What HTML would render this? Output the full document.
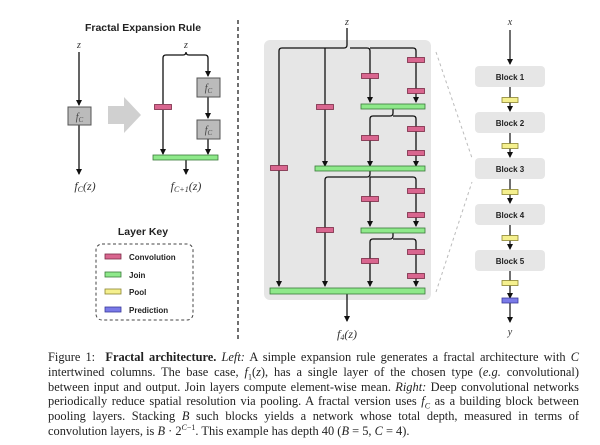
<!DOCTYPE html>
<html><head><meta charset="utf-8"><style>
body{margin:0;background:#fff;width:600px;height:445px;overflow:hidden;position:relative}
.cap{position:absolute;left:48px;top:350px;width:531px;font-family:"Liberation Serif",serif;font-size:12.4px;line-height:14.8px;text-align:justify;color:#222}
.cap sub,.cap sup{line-height:0;font-size:8px}
</style></head><body>
<svg width="600" height="445" style="position:absolute;left:0;top:0" font-family="Liberation Sans, sans-serif">
<defs>
<marker id="a" markerWidth="6" markerHeight="6" refX="5" refY="3" orient="auto" markerUnits="userSpaceOnUse"><path d="M0,0 L6,3 L0,6 z" fill="#111"/></marker>
<symbol id="c" overflow="visible"><rect x="-8.5" y="-2.5" width="17" height="5" fill="#d9668f" stroke="#7a2a45" stroke-width="0.8"/></symbol>
<symbol id="p" overflow="visible"><rect x="-8" y="-2.5" width="16" height="5" fill="#f5f08e" stroke="#8a8430" stroke-width="0.8"/></symbol>
</defs>
<g stroke="#111" stroke-width="1.3" fill="none">
<path d="M79,52 V105" marker-end="url(#a)"/>
<path d="M79,125 V174" marker-end="url(#a)"/>
<path d="M163,104 V58 Q163,55 166,55 H183 Q186,55 186,52 Q186,55 189,55 H205 Q208,55 208,58 V76" marker-end="url(#a)"/>
<path d="M163,110 V154" marker-end="url(#a)"/>
<path d="M208,97 V118" marker-end="url(#a)"/>
<path d="M208,139 V154" marker-end="url(#a)"/>
<path d="M186,160 V174" marker-end="url(#a)"/>
</g>
<text x="143" y="31" font-size="10.5" font-weight="bold" text-anchor="middle" fill="#222">Fractal Expansion Rule</text>
<g font-family="Liberation Serif, serif" font-style="italic" fill="#333" text-anchor="middle">
<text x="79" y="48" font-size="10">z</text>
<text x="186" y="48" font-size="10">z</text>
<text x="85" y="190" font-size="12">f<tspan font-size="8" dy="2">C</tspan><tspan dy="-2">(z)</tspan></text>
<text x="186" y="190" font-size="12">f<tspan font-size="8" dy="2">C+1</tspan><tspan dy="-2">(z)</tspan></text>
<text x="347" y="25" font-size="10">z</text>
<text x="347" y="338" font-size="12">f<tspan font-size="8" dy="2">4</tspan><tspan dy="-2">(z)</tspan></text>
<text x="510" y="25" font-size="10">x</text>
<text x="510" y="335" font-size="10">y</text>
</g>
<rect x="68" y="107" width="23" height="18" fill="#bbb" stroke="#555"/>
<text x="79.5" y="120" font-size="10" font-family="Liberation Serif, serif" font-style="italic" text-anchor="middle" fill="#444">f<tspan font-size="7" dy="2">C</tspan></text>
<rect x="197" y="78" width="23" height="19" fill="#bbb" stroke="#555"/>
<text x="208.5" y="91" font-size="10" font-family="Liberation Serif, serif" font-style="italic" text-anchor="middle" fill="#444">f<tspan font-size="7" dy="2">C</tspan></text>
<rect x="197" y="120" width="23" height="19" fill="#bbb" stroke="#555"/>
<text x="208.5" y="133" font-size="10" font-family="Liberation Serif, serif" font-style="italic" text-anchor="middle" fill="#444">f<tspan font-size="7" dy="2">C</tspan></text>
<path d="M108,106 H124 V97 L141,115 L124,133 V124 H108 z" fill="#d0d0d0"/>
<use href="#c" x="163" y="107"/>
<rect x="153" y="155" width="65" height="5" fill="#8ee98a" stroke="#3a7a3a" stroke-width="0.8"/>
<line x1="238" y1="20" x2="238" y2="340" stroke="#222" stroke-width="1.3" stroke-dasharray="4,3"/>
<text x="143" y="235" font-size="10.5" font-weight="bold" text-anchor="middle" fill="#222">Layer Key</text>
<rect x="96" y="244" width="97" height="76" rx="6" fill="none" stroke="#444" stroke-dasharray="3,2.5"/>
<g font-size="8" font-weight="bold" fill="#222">
<rect x="105" y="254" width="16" height="5" fill="#d9668f" stroke="#7a2a45" stroke-width="0.8"/><text x="129" y="260">Convolution</text>
<rect x="105" y="272" width="16" height="5" fill="#8ee98a" stroke="#3a7a3a" stroke-width="0.8"/><text x="129" y="278">Join</text>
<rect x="105" y="289" width="16" height="5" fill="#f5f08e" stroke="#8a8430" stroke-width="0.8"/><text x="129" y="295">Pool</text>
<rect x="105" y="307" width="16" height="5" fill="#7a7ae8" stroke="#3a3a9a" stroke-width="0.8"/><text x="129" y="313">Prediction</text>
</g>
<rect x="264" y="40" width="167" height="260" rx="6" fill="#e6e6e6"/>
<g stroke="#bbb" stroke-width="1" stroke-dasharray="3,3"><line x1="436" y1="52" x2="472" y2="158"/><line x1="436" y1="292" x2="472" y2="182"/></g>
<g stroke="#111" stroke-width="1.3" fill="none">
<path d="M347,28 V45 Q347,48 344,48 H282 Q279,48 279,51 V286" marker-end="url(#a)"/>
<path d="M325,48 V166" marker-end="url(#a)"/>
<path d="M350,48 H367 Q370,48 370,51 V102" marker-end="url(#a)"/>
<path d="M370,48 H413 Q416,48 416,51 V102" marker-end="url(#a)"/>
<path d="M393,109 V113 Q393,116 390,116 H373 Q370,116 370,119 V166" marker-end="url(#a)"/>
<path d="M393,116 H413 Q416,116 416,119 V166" marker-end="url(#a)"/>
<path d="M370,170 V174 Q370,177 367,177 H328 Q325,177 325,180 V286" marker-end="url(#a)"/>
<path d="M370,177 V226" marker-end="url(#a)"/>
<path d="M370,177 H413 Q416,177 416,180 V226" marker-end="url(#a)"/>
<path d="M393,232 V236 Q393,239 390,239 H373 Q370,239 370,242 V286" marker-end="url(#a)"/>
<path d="M393,239 H413 Q416,239 416,242 V286" marker-end="url(#a)"/>
<path d="M347,294 V321" marker-end="url(#a)"/>
</g>
<use href="#c" x="416" y="60"/><use href="#c" x="416" y="91"/><use href="#c" x="370" y="76"/><use href="#c" x="325" y="107"/>
<use href="#c" x="370" y="138"/><use href="#c" x="416" y="129"/><use href="#c" x="416" y="153"/><use href="#c" x="279" y="168"/>
<use href="#c" x="325" y="230"/><use href="#c" x="370" y="199"/><use href="#c" x="416" y="191"/><use href="#c" x="416" y="215"/>
<use href="#c" x="370" y="261"/><use href="#c" x="416" y="252"/><use href="#c" x="416" y="276"/>
<g fill="#8ee98a" stroke="#3a7a3a" stroke-width="0.8">
<rect x="361" y="104" width="64" height="5"/><rect x="315" y="166" width="110" height="5"/>
<rect x="361" y="228" width="64" height="5"/><rect x="270" y="288" width="155" height="6"/>
</g>
<g stroke="#111" stroke-width="1.2" fill="none">
<path d="M510,30 V64" marker-end="url(#a)"/>
<path d="M510,87 V111" marker-end="url(#a)"/><path d="M510,133 V157" marker-end="url(#a)"/>
<path d="M510,179 V203" marker-end="url(#a)"/><path d="M510,225 V249" marker-end="url(#a)"/>
<path d="M510,271 V298" marker-end="url(#a)"/><path d="M510,302 V322" marker-end="url(#a)"/>
</g>
<g fill="#e6e6e6"><rect x="475" y="66" width="70" height="21" rx="4"/><rect x="475" y="112" width="70" height="21" rx="4"/><rect x="475" y="158" width="70" height="21" rx="4"/><rect x="475" y="204" width="70" height="21" rx="4"/><rect x="475" y="250" width="70" height="21" rx="4"/></g>
<g font-size="8" font-weight="bold" fill="#222" text-anchor="middle"><text x="510" y="80">Block 1</text><text x="510" y="126">Block 2</text><text x="510" y="172">Block 3</text><text x="510" y="218">Block 4</text><text x="510" y="264">Block 5</text></g>
<use href="#p" x="510" y="100"/><use href="#p" x="510" y="146"/><use href="#p" x="510" y="192"/><use href="#p" x="510" y="238"/><use href="#p" x="510" y="283"/>
<rect x="502" y="298" width="16" height="5" fill="#7a7ae8" stroke="#3a3a9a" stroke-width="0.8"/>
</svg>
<div class="cap">Figure 1: &nbsp;<b>Fractal architecture.</b> <i>Left:</i> A simple expansion rule generates a fractal architecture with <i>C</i> intertwined columns. The base case, <i>f</i><sub>1</sub>(<i>z</i>), has a single layer of the chosen type (<i>e.g.</i> convolutional) between input and output. Join layers compute element-wise mean. <i>Right:</i> Deep convolutional networks periodically reduce spatial resolution via pooling. A fractal version uses <i>f<sub>C</sub></i> as a building block between pooling layers. Stacking <i>B</i> such blocks yields a network whose total depth, measured in terms of convolution layers, is <i>B</i> · 2<sup><i>C</i>−1</sup>. This example has depth 40 (<i>B</i> = 5, <i>C</i> = 4).</div>
</body></html>
